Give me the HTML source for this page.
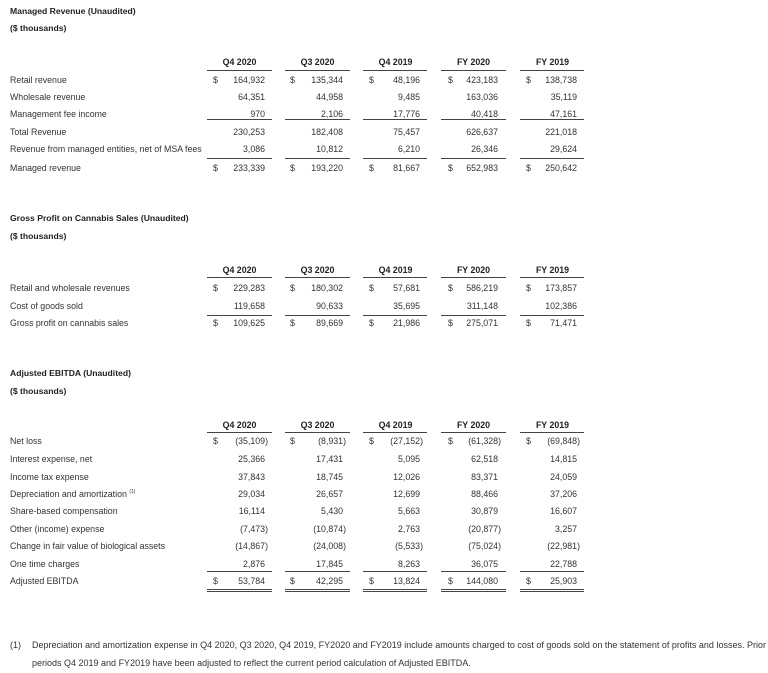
<!DOCTYPE html>
<html><head><meta charset="utf-8"><style>
body{margin:0;width:768px;height:673px;background:#fff;position:relative;overflow:hidden;font-family:"Liberation Sans",Arial,sans-serif;font-size:8.8px;color:#333}
.t{position:absolute;left:10px;font-weight:bold;font-size:8.6px;color:#222;line-height:12px}
.r{position:absolute;left:0;width:768px;height:12px;line-height:12px}
.r span{position:absolute;white-space:nowrap}
.l{left:10px}
.d1{left:213px}.d2{left:290px}.d3{left:369px}.d4{left:448px}.d5{left:526px}
.n1{right:503px}.n2{right:425px}.n3{right:348px}.n4{right:270px}.n5{right:191px}
.p{margin-right:-3px}
.h{font-weight:bold;color:#222}
.h1{left:207px;width:65px;text-align:center}.h2{left:285px;width:65px;text-align:center}.h3{left:363px;width:65px;text-align:center}.h4{left:441px;width:65px;text-align:center}.h5{left:520px;width:65px;text-align:center}
.ln{position:absolute;height:1px;background:#444}
.f{position:absolute;font-size:9px;line-height:18px;color:#333;white-space:nowrap}
sup{font-size:5px;line-height:0;vertical-align:0;position:relative;top:-4px}
</style></head><body>
<div class="t" style="top:5px">Managed Revenue (Unaudited)</div>
<div class="t" style="top:22px">($ thousands)</div>

<div class="r" style="top:56px"><span class="h h1">Q4 2020</span><span class="h h2">Q3 2020</span><span class="h h3">Q4 2019</span><span class="h h4">FY 2020</span><span class="h h5">FY 2019</span></div>
<div class="ln" style="top:70px;left:207px;width:65px"></div><div class="ln" style="top:70px;left:285px;width:65px"></div><div class="ln" style="top:70px;left:363px;width:64px"></div><div class="ln" style="top:70px;left:441px;width:65px"></div><div class="ln" style="top:70px;left:520px;width:64px"></div>
<div class="r" style="top:74px"><span class="l">Retail revenue</span><span class="d1">$</span><span class="n1">164,932</span><span class="d2">$</span><span class="n2">135,344</span><span class="d3">$</span><span class="n3">48,196</span><span class="d4">$</span><span class="n4">423,183</span><span class="d5">$</span><span class="n5">138,738</span></div>
<div class="r" style="top:91px"><span class="l">Wholesale revenue</span><span class="n1">64,351</span><span class="n2">44,958</span><span class="n3">9,485</span><span class="n4">163,036</span><span class="n5">35,119</span></div>
<div class="r" style="top:108px"><span class="l">Management fee income</span><span class="n1">970</span><span class="n2">2,106</span><span class="n3">17,776</span><span class="n4">40,418</span><span class="n5">47,161</span></div>
<div class="ln" style="top:119px;left:207px;width:65px"></div><div class="ln" style="top:119px;left:285px;width:65px"></div><div class="ln" style="top:119px;left:363px;width:64px"></div><div class="ln" style="top:119px;left:441px;width:65px"></div><div class="ln" style="top:119px;left:520px;width:64px"></div>
<div class="r" style="top:126px"><span class="l">Total Revenue</span><span class="n1">230,253</span><span class="n2">182,408</span><span class="n3">75,457</span><span class="n4">626,637</span><span class="n5">221,018</span></div>
<div class="r" style="top:143px"><span class="l">Revenue from managed entities, net of MSA fees</span><span class="n1">3,086</span><span class="n2">10,812</span><span class="n3">6,210</span><span class="n4">26,346</span><span class="n5">29,624</span></div>
<div class="ln" style="top:158px;left:207px;width:65px"></div><div class="ln" style="top:158px;left:285px;width:65px"></div><div class="ln" style="top:158px;left:363px;width:64px"></div><div class="ln" style="top:158px;left:441px;width:65px"></div><div class="ln" style="top:158px;left:520px;width:64px"></div>
<div class="r" style="top:162px"><span class="l">Managed revenue</span><span class="d1">$</span><span class="n1">233,339</span><span class="d2">$</span><span class="n2">193,220</span><span class="d3">$</span><span class="n3">81,667</span><span class="d4">$</span><span class="n4">652,983</span><span class="d5">$</span><span class="n5">250,642</span></div>

<div class="t" style="top:212px">Gross Profit on Cannabis Sales (Unaudited)</div>
<div class="t" style="top:230px">($ thousands)</div>
<div class="r" style="top:264px"><span class="h h1">Q4 2020</span><span class="h h2">Q3 2020</span><span class="h h3">Q4 2019</span><span class="h h4">FY 2020</span><span class="h h5">FY 2019</span></div>
<div class="ln" style="top:277px;left:207px;width:65px"></div><div class="ln" style="top:277px;left:285px;width:65px"></div><div class="ln" style="top:277px;left:363px;width:64px"></div><div class="ln" style="top:277px;left:441px;width:65px"></div><div class="ln" style="top:277px;left:520px;width:64px"></div>
<div class="r" style="top:282px"><span class="l">Retail and wholesale revenues</span><span class="d1">$</span><span class="n1">229,283</span><span class="d2">$</span><span class="n2">180,302</span><span class="d3">$</span><span class="n3">57,681</span><span class="d4">$</span><span class="n4">586,219</span><span class="d5">$</span><span class="n5">173,857</span></div>
<div class="r" style="top:300px"><span class="l">Cost of goods sold</span><span class="n1">119,658</span><span class="n2">90,633</span><span class="n3">35,695</span><span class="n4">311,148</span><span class="n5">102,386</span></div>
<div class="ln" style="top:315px;left:207px;width:65px"></div><div class="ln" style="top:315px;left:285px;width:65px"></div><div class="ln" style="top:315px;left:363px;width:64px"></div><div class="ln" style="top:315px;left:441px;width:65px"></div><div class="ln" style="top:315px;left:520px;width:64px"></div>
<div class="r" style="top:317px"><span class="l">Gross profit on cannabis sales</span><span class="d1">$</span><span class="n1">109,625</span><span class="d2">$</span><span class="n2">89,669</span><span class="d3">$</span><span class="n3">21,986</span><span class="d4">$</span><span class="n4">275,071</span><span class="d5">$</span><span class="n5">71,471</span></div>

<div class="t" style="top:367px">Adjusted EBITDA (Unaudited)</div>
<div class="t" style="top:385px">($ thousands)</div>
<div class="r" style="top:419px"><span class="h h1">Q4 2020</span><span class="h h2">Q3 2020</span><span class="h h3">Q4 2019</span><span class="h h4">FY 2020</span><span class="h h5">FY 2019</span></div>
<div class="ln" style="top:432px;left:207px;width:65px"></div><div class="ln" style="top:432px;left:285px;width:65px"></div><div class="ln" style="top:432px;left:363px;width:64px"></div><div class="ln" style="top:432px;left:441px;width:65px"></div><div class="ln" style="top:432px;left:520px;width:64px"></div>
<div class="r" style="top:435px"><span class="l">Net loss</span><span class="d1">$</span><span class="n1 p">(35,109)</span><span class="d2">$</span><span class="n2 p">(8,931)</span><span class="d3">$</span><span class="n3 p">(27,152)</span><span class="d4">$</span><span class="n4 p">(61,328)</span><span class="d5">$</span><span class="n5 p">(69,848)</span></div>
<div class="r" style="top:453px"><span class="l">Interest expense, net</span><span class="n1">25,366</span><span class="n2">17,431</span><span class="n3">5,095</span><span class="n4">62,518</span><span class="n5">14,815</span></div>
<div class="r" style="top:471px"><span class="l">Income tax expense</span><span class="n1">37,843</span><span class="n2">18,745</span><span class="n3">12,026</span><span class="n4">83,371</span><span class="n5">24,059</span></div>
<div class="r" style="top:488px"><span class="l">Depreciation and amortization <sup>(1)</sup></span><span class="n1">29,034</span><span class="n2">26,657</span><span class="n3">12,699</span><span class="n4">88,466</span><span class="n5">37,206</span></div>
<div class="r" style="top:505px"><span class="l">Share-based compensation</span><span class="n1">16,114</span><span class="n2">5,430</span><span class="n3">5,663</span><span class="n4">30,879</span><span class="n5">16,607</span></div>
<div class="r" style="top:523px"><span class="l">Other (income) expense</span><span class="n1 p">(7,473)</span><span class="n2 p">(10,874)</span><span class="n3">2,763</span><span class="n4 p">(20,877)</span><span class="n5">3,257</span></div>
<div class="r" style="top:540px"><span class="l">Change in fair value of biological assets</span><span class="n1 p">(14,867)</span><span class="n2 p">(24,008)</span><span class="n3 p">(5,533)</span><span class="n4 p">(75,024)</span><span class="n5 p">(22,981)</span></div>
<div class="r" style="top:558px"><span class="l">One time charges</span><span class="n1">2,876</span><span class="n2">17,845</span><span class="n3">8,263</span><span class="n4">36,075</span><span class="n5">22,788</span></div>
<div class="ln" style="top:571px;left:207px;width:65px"></div><div class="ln" style="top:571px;left:285px;width:65px"></div><div class="ln" style="top:571px;left:363px;width:64px"></div><div class="ln" style="top:571px;left:441px;width:65px"></div><div class="ln" style="top:571px;left:520px;width:64px"></div>
<div class="r" style="top:575px"><span class="l">Adjusted EBITDA</span><span class="d1">$</span><span class="n1">53,784</span><span class="d2">$</span><span class="n2">42,295</span><span class="d3">$</span><span class="n3">13,824</span><span class="d4">$</span><span class="n4">144,080</span><span class="d5">$</span><span class="n5">25,903</span></div>
<div class="ln" style="top:589px;left:207px;width:65px"></div><div class="ln" style="top:589px;left:285px;width:65px"></div><div class="ln" style="top:589px;left:363px;width:64px"></div><div class="ln" style="top:589px;left:441px;width:65px"></div><div class="ln" style="top:589px;left:520px;width:64px"></div>
<div class="ln" style="top:591px;left:207px;width:65px"></div><div class="ln" style="top:591px;left:285px;width:65px"></div><div class="ln" style="top:591px;left:363px;width:64px"></div><div class="ln" style="top:591px;left:441px;width:65px"></div><div class="ln" style="top:591px;left:520px;width:64px"></div>

<div class="f" style="top:636px;left:10px">(1)</div>
<div class="f" style="top:636px;left:32px">Depreciation and amortization expense in Q4 2020, Q3 2020, Q4 2019, FY2020 and FY2019 include amounts charged to cost of goods sold on the statement of profits and losses. Prior<br>periods Q4 2019 and FY2019 have been adjusted to reflect the current period calculation of Adjusted EBITDA.</div>
</body></html>
